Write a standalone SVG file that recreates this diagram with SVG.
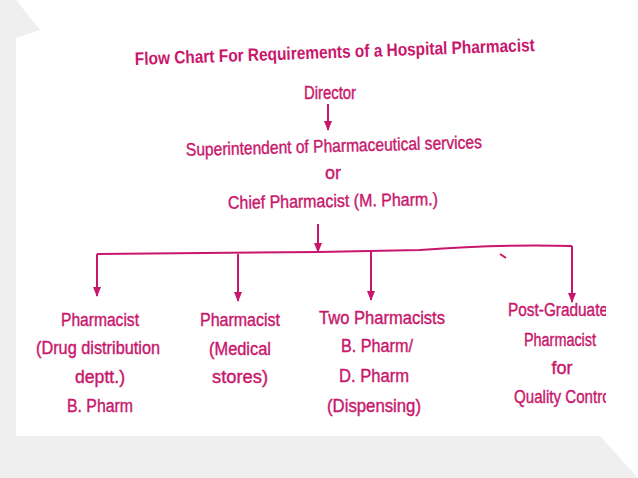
<svg xmlns="http://www.w3.org/2000/svg" width="638" height="478" viewBox="0 0 638 478">
<style>
text{font-family:"Liberation Sans",Arial,sans-serif;fill:#c8176c;font-size:18px;text-anchor:middle;stroke:#c8176c;stroke-width:0.4}
.t{font-weight:bold;stroke-width:0}
.c{stroke:#c8176c;stroke-width:2;fill:none}
</style>
<defs>
<marker id="a" viewBox="0 0 10 10" refX="9" refY="5" markerWidth="5" markerHeight="5" orient="auto"><path d="M0,1 L10,5 L0,9 Z" fill="#c8176c"/></marker>
<clipPath id="cp"><rect x="0" y="0" width="606" height="478"/></clipPath>
</defs>
<rect width="638" height="478" fill="#ffffff"/>
<path d="M0,0 L16,0 L40,30 L16,38 L16,436 L600,436 L638,478 L0,478 Z" fill="#efefef"/>
<rect x="16" y="38" width="590" height="398" fill="#fff"/>
<g id="title"><text class="t" x="335" y="58" transform="rotate(-2 335 58)" textLength="400" lengthAdjust="spacingAndGlyphs">Flow Chart For Requirements of a Hospital Pharmacist</text></g>
<g id="director"><text x="330" y="99" textLength="52" lengthAdjust="spacingAndGlyphs" font-size="17">Director</text></g>
<g id="superintendent"><text x="334" y="152" transform="rotate(-1.5 334 152)" textLength="296" lengthAdjust="spacingAndGlyphs">Superintendent of Pharmaceutical services</text><text x="333" y="179">or</text><text x="333" y="207" transform="rotate(-1 333 207)" textLength="210" lengthAdjust="spacingAndGlyphs">Chief Pharmacist (M. Pharm.)</text></g>
<g id="connectors">
<line class="c" x1="328" y1="104" x2="328" y2="130" marker-end="url(#a)"/>
<line class="c" x1="318" y1="224" x2="318" y2="252" marker-end="url(#a)"/>
<path class="c" d="M97,254 L318,252 L420,250 Q500,244 572,246"/>
<path class="c" d="M500,254 l6,4" stroke-width="3"/>
<line class="c" x1="97" y1="254" x2="97" y2="296" marker-end="url(#a)"/>
<line class="c" x1="238" y1="254" x2="238" y2="301" marker-end="url(#a)"/>
<line class="c" x1="371" y1="251" x2="371" y2="300" marker-end="url(#a)"/>
<line class="c" x1="572" y1="246" x2="572" y2="302" marker-end="url(#a)"/>
</g>
<g id="n1"><text x="100" y="326" textLength="78" lengthAdjust="spacingAndGlyphs">Pharmacist</text><text x="98" y="354" textLength="124" lengthAdjust="spacingAndGlyphs">(Drug distribution</text><text x="100" y="383" textLength="50" lengthAdjust="spacingAndGlyphs">deptt.)</text><text x="100" y="412" textLength="66" lengthAdjust="spacingAndGlyphs">B. Pharm</text></g>
<g id="n2"><text x="240" y="326" textLength="80" lengthAdjust="spacingAndGlyphs">Pharmacist</text><text x="240" y="355" textLength="62" lengthAdjust="spacingAndGlyphs">(Medical</text><text x="240" y="383" textLength="56" lengthAdjust="spacingAndGlyphs">stores)</text></g>
<g id="n3"><text x="382" y="324" textLength="126" lengthAdjust="spacingAndGlyphs">Two Pharmacists</text><text x="377" y="352" textLength="72" lengthAdjust="spacingAndGlyphs">B. Pharm/</text><text x="374" y="382" textLength="70" lengthAdjust="spacingAndGlyphs">D. Pharm</text><text x="374" y="412" textLength="94" lengthAdjust="spacingAndGlyphs">(Dispensing)</text></g>
<g id="n4" clip-path="url(#cp)"><text x="558" y="316" textLength="100" lengthAdjust="spacingAndGlyphs">Post-Graduate</text><text x="560" y="346" textLength="72" lengthAdjust="spacingAndGlyphs">Pharmacist</text><text x="562" y="374">for</text><text x="564" y="403" textLength="100" lengthAdjust="spacingAndGlyphs">Quality Control</text></g>
</svg>
